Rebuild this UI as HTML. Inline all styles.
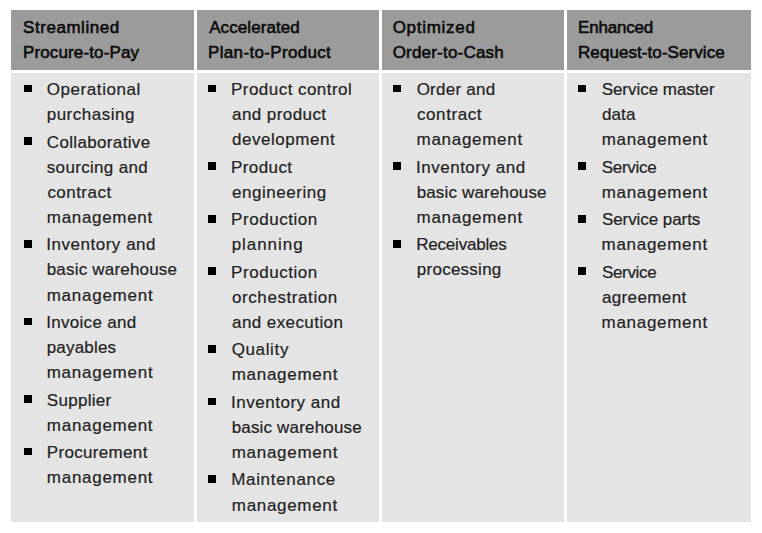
<!DOCTYPE html>
<html><head><meta charset="utf-8">
<style>
html,body{margin:0;padding:0;background:#fff;}
body{width:762px;height:533px;position:relative;overflow:hidden;font-family:"Liberation Sans",sans-serif;}
.h{position:absolute;top:10px;height:59.5px;background:#9b9b9b;color:#0a0a0a;font-weight:normal;-webkit-text-stroke:0.55px #0a0a0a;font-size:17px;line-height:25.2px;box-sizing:border-box;padding-top:4.6px;}
.b{position:absolute;top:72.5px;height:449.5px;background:#e4e4e4;color:#222;-webkit-text-stroke:0.2px #222;font-size:17px;line-height:25.15px;box-sizing:border-box;padding-top:4.5px;}
.l{display:block;white-space:nowrap;}
.i{position:relative;margin-bottom:2.2px;}
.q{position:absolute;top:7.75px;width:8px;height:7.6px;background:#000;}
</style></head><body>

<div class="h" style="left:10.5px;width:183.5px">
<span class="l" id="L0" style="margin-left:12.62px;letter-spacing:0.534px">Streamlined</span>
<span class="l" id="L1" style="margin-left:12.50px;letter-spacing:0.131px">Procure-to-Pay</span>
</div>
<div class="h" style="left:197px;width:182px">
<span class="l" id="L2" style="margin-left:12.20px;letter-spacing:0.076px">Accelerated</span>
<span class="l" id="L3" style="margin-left:11.00px;letter-spacing:0.338px">Plan-to-Product</span>
</div>
<div class="h" style="left:382px;width:182px">
<span class="l" id="L4" style="margin-left:10.64px;letter-spacing:0.725px">Optimized</span>
<span class="l" id="L5" style="margin-left:10.64px;letter-spacing:0.203px">Order-to-Cash</span>
</div>
<div class="h" style="left:567px;width:183.5px">
<span class="l" id="L6" style="margin-left:11.00px;letter-spacing:-0.200px">Enhanced</span>
<span class="l" id="L7" style="margin-left:11.00px;letter-spacing:0.072px">Request-to-Service</span>
</div>
<div class="b" style="left:10.5px;width:183.5px">
<div class="i"><span class="q" style="left:13px"></span>
<span class="l" id="L8" style="margin-left:36.30px;letter-spacing:0.562px">Operational</span>
<span class="l" id="L9" style="margin-left:36.22px;letter-spacing:0.498px">purchasing</span>
</div>
<div class="i"><span class="q" style="left:13px"></span>
<span class="l" id="L10" style="margin-left:36.30px;letter-spacing:0.345px">Collaborative</span>
<span class="l" id="L11" style="margin-left:36.30px;letter-spacing:0.321px">sourcing and</span>
<span class="l" id="L12" style="margin-left:36.90px;letter-spacing:0.463px">contract</span>
<span class="l" id="L13" style="margin-left:36.30px;letter-spacing:0.688px">management</span>
</div>
<div class="i"><span class="q" style="left:13px"></span>
<span class="l" id="L14" style="margin-left:35.70px;letter-spacing:0.530px">Inventory and</span>
<span class="l" id="L15" style="margin-left:36.22px;letter-spacing:0.191px">basic warehouse</span>
<span class="l" id="L16" style="margin-left:36.22px;letter-spacing:0.742px">management</span>
</div>
<div class="i"><span class="q" style="left:13px"></span>
<span class="l" id="L17" style="margin-left:35.70px;letter-spacing:0.300px">Invoice and</span>
<span class="l" id="L18" style="margin-left:36.22px;letter-spacing:0.185px">payables</span>
<span class="l" id="L19" style="margin-left:36.22px;letter-spacing:0.742px">management</span>
</div>
<div class="i"><span class="q" style="left:13px"></span>
<span class="l" id="L20" style="margin-left:36.34px;letter-spacing:0.274px">Supplier</span>
<span class="l" id="L21" style="margin-left:36.34px;letter-spacing:0.720px">management</span>
</div>
<div class="i"><span class="q" style="left:13px"></span>
<span class="l" id="L22" style="margin-left:36.34px;letter-spacing:0.322px">Procurement</span>
<span class="l" id="L23" style="margin-left:36.34px;letter-spacing:0.720px">management</span>
</div>
</div>
<div class="b" style="left:197px;width:182px">
<div class="i"><span class="q" style="left:11.3px"></span>
<span class="l" id="L24" style="margin-left:34.04px;letter-spacing:0.457px">Product control</span>
<span class="l" id="L25" style="margin-left:35.04px;letter-spacing:0.422px">and product</span>
<span class="l" id="L26" style="margin-left:35.04px;letter-spacing:0.530px">development</span>
</div>
<div class="i"><span class="q" style="left:11.3px"></span>
<span class="l" id="L27" style="margin-left:34.04px;letter-spacing:0.408px">Product</span>
<span class="l" id="L28" style="margin-left:35.04px;letter-spacing:0.526px">engineering</span>
</div>
<div class="i"><span class="q" style="left:11.3px"></span>
<span class="l" id="L29" style="margin-left:34.04px;letter-spacing:0.550px">Production</span>
<span class="l" id="L30" style="margin-left:34.64px;letter-spacing:0.957px">planning</span>
</div>
<div class="i"><span class="q" style="left:11.3px"></span>
<span class="l" id="L31" style="margin-left:34.04px;letter-spacing:0.550px">Production</span>
<span class="l" id="L32" style="margin-left:35.04px;letter-spacing:0.576px">orchestration</span>
<span class="l" id="L33" style="margin-left:35.04px;letter-spacing:0.418px">and execution</span>
</div>
<div class="i"><span class="q" style="left:11.3px"></span>
<span class="l" id="L34" style="margin-left:34.64px;letter-spacing:0.646px">Quality</span>
<span class="l" id="L35" style="margin-left:34.64px;letter-spacing:0.731px">management</span>
</div>
<div class="i"><span class="q" style="left:11.3px"></span>
<span class="l" id="L36" style="margin-left:34.04px;letter-spacing:0.512px">Inventory and</span>
<span class="l" id="L37" style="margin-left:34.64px;letter-spacing:0.181px">basic warehouse</span>
<span class="l" id="L38" style="margin-left:34.64px;letter-spacing:0.731px">management</span>
</div>
<div class="i"><span class="q" style="left:11.3px"></span>
<span class="l" id="L39" style="margin-left:34.20px;letter-spacing:0.674px">Maintenance</span>
<span class="l" id="L40" style="margin-left:34.80px;letter-spacing:0.688px">management</span>
</div>
</div>
<div class="b" style="left:382px;width:182px">
<div class="i"><span class="q" style="left:11.3px"></span>
<span class="l" id="L41" style="margin-left:34.64px;letter-spacing:0.255px">Order and</span>
<span class="l" id="L42" style="margin-left:35.04px;letter-spacing:0.565px">contract</span>
<span class="l" id="L43" style="margin-left:34.52px;letter-spacing:0.711px">management</span>
</div>
<div class="i"><span class="q" style="left:11.3px"></span>
<span class="l" id="L44" style="margin-left:34.04px;letter-spacing:0.503px">Inventory and</span>
<span class="l" id="L45" style="margin-left:34.64px;letter-spacing:0.169px">basic warehouse</span>
<span class="l" id="L46" style="margin-left:34.52px;letter-spacing:0.711px">management</span>
</div>
<div class="i"><span class="q" style="left:11.3px"></span>
<span class="l" id="L47" style="margin-left:34.20px;letter-spacing:-0.200px">Receivables</span>
<span class="l" id="L48" style="margin-left:34.80px;letter-spacing:0.254px">processing</span>
</div>
</div>
<div class="b" style="left:567px;width:183.5px">
<div class="i"><span class="q" style="left:11.3px"></span>
<span class="l" id="L49" style="margin-left:34.64px;letter-spacing:-0.028px">Service master</span>
<span class="l" id="L50" style="margin-left:35.04px;letter-spacing:0.086px">data</span>
<span class="l" id="L51" style="margin-left:34.64px;letter-spacing:0.711px">management</span>
</div>
<div class="i"><span class="q" style="left:11.3px"></span>
<span class="l" id="L52" style="margin-left:34.64px;letter-spacing:-0.260px">Service</span>
<span class="l" id="L53" style="margin-left:34.64px;letter-spacing:0.711px">management</span>
</div>
<div class="i"><span class="q" style="left:11.3px"></span>
<span class="l" id="L54" style="margin-left:34.92px;letter-spacing:-0.062px">Service parts</span>
<span class="l" id="L55" style="margin-left:34.52px;letter-spacing:0.711px">management</span>
</div>
<div class="i"><span class="q" style="left:11.3px"></span>
<span class="l" id="L56" style="margin-left:34.92px;letter-spacing:-0.326px">Service</span>
<span class="l" id="L57" style="margin-left:34.92px;letter-spacing:0.375px">agreement</span>
<span class="l" id="L58" style="margin-left:34.52px;letter-spacing:0.711px">management</span>
</div>
</div>
</body></html>
